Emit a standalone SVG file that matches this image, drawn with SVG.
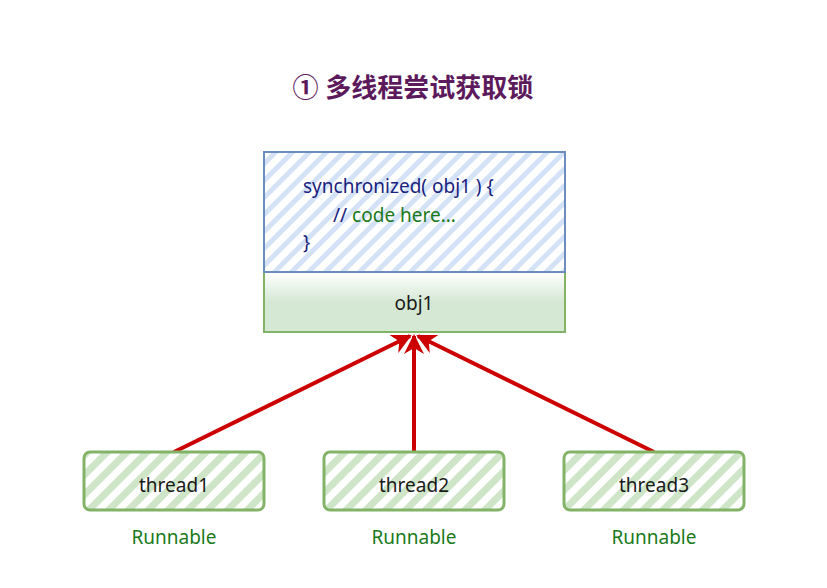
<svg xmlns="http://www.w3.org/2000/svg" width="827" height="588" viewBox="0 0 827 588">
<style>
text{font-family:"Noto Sans","Liberation Sans","Noto Sans CJK SC",sans-serif}
.t{font-size:19px;fill:#1a1a1a;text-anchor:middle}
.r{font-size:19px;fill:#1a7a1a;text-anchor:middle}
.th{fill:url(#gh);stroke:#82b366;stroke-width:3}
.c{stroke:#cc0000;stroke-width:4;fill:none;marker-end:url(#a)}
</style>
<defs>
<pattern id="bh" width="12" height="12" patternUnits="userSpaceOnUse" patternTransform="rotate(45)"><rect width="12" height="12" fill="#fff"/><rect width="5" height="12" fill="#d4e2f7"/></pattern>
<pattern id="gh" width="14" height="14" patternUnits="userSpaceOnUse" patternTransform="rotate(45)"><rect width="14" height="14" fill="#fff"/><rect width="7" height="14" fill="#cfe5c8"/></pattern>
<linearGradient id="g" x1="0" y1="0" x2="0" y2="1"><stop offset="0" stop-color="#ffffff"/><stop offset="0.5" stop-color="#d5e8d4"/></linearGradient>
<marker id="a" viewBox="0 0 10 10" refX="9" refY="5" markerWidth="5" markerHeight="5" orient="auto"><path d="M0,0L10,5L0,10L3,5z" fill="#cc0000"/></marker>
</defs>
<text x="413" y="97" font-size="26" font-weight="bold" fill="#5c1a5c" text-anchor="middle">① 多线程尝试获取锁</text>
<g id="obj1">
<rect x="264" y="272" width="301" height="60" fill="url(#g)" stroke="#82b366" stroke-width="2"/>
<text class="t" x="414" y="310">obj1</text>
</g>
<g id="sync">
<rect x="264" y="152" width="301" height="120" fill="url(#bh)" stroke="#6c8ebf" stroke-width="2"/>
<text x="303" y="193" font-size="19" fill="#1a237e">synchronized( obj1 ) {</text>
<text x="333" y="222" font-size="19" fill="#1a237e">// <tspan fill="#1a7a1a">code here...</tspan></text>
<text x="303" y="249" font-size="19" fill="#1a237e">}</text>
</g>
<g id="connectors">
<line class="c" x1="174" y1="452" x2="410" y2="336"/>
<line class="c" x1="414" y1="452" x2="414" y2="336"/>
<line class="c" x1="654" y1="452" x2="418" y2="336"/>
</g>
<g id="thread1"><rect class="th" x="84" y="452" width="180" height="58" rx="6"/><text class="t" x="174" y="492">thread1</text><text class="r" x="174" y="544">Runnable</text></g>
<g id="thread2"><rect class="th" x="324" y="452" width="180" height="58" rx="6"/><text class="t" x="414" y="492">thread2</text><text class="r" x="414" y="544">Runnable</text></g>
<g id="thread3"><rect class="th" x="564" y="452" width="180" height="58" rx="6"/><text class="t" x="654" y="492">thread3</text><text class="r" x="654" y="544">Runnable</text></g>
</svg>
